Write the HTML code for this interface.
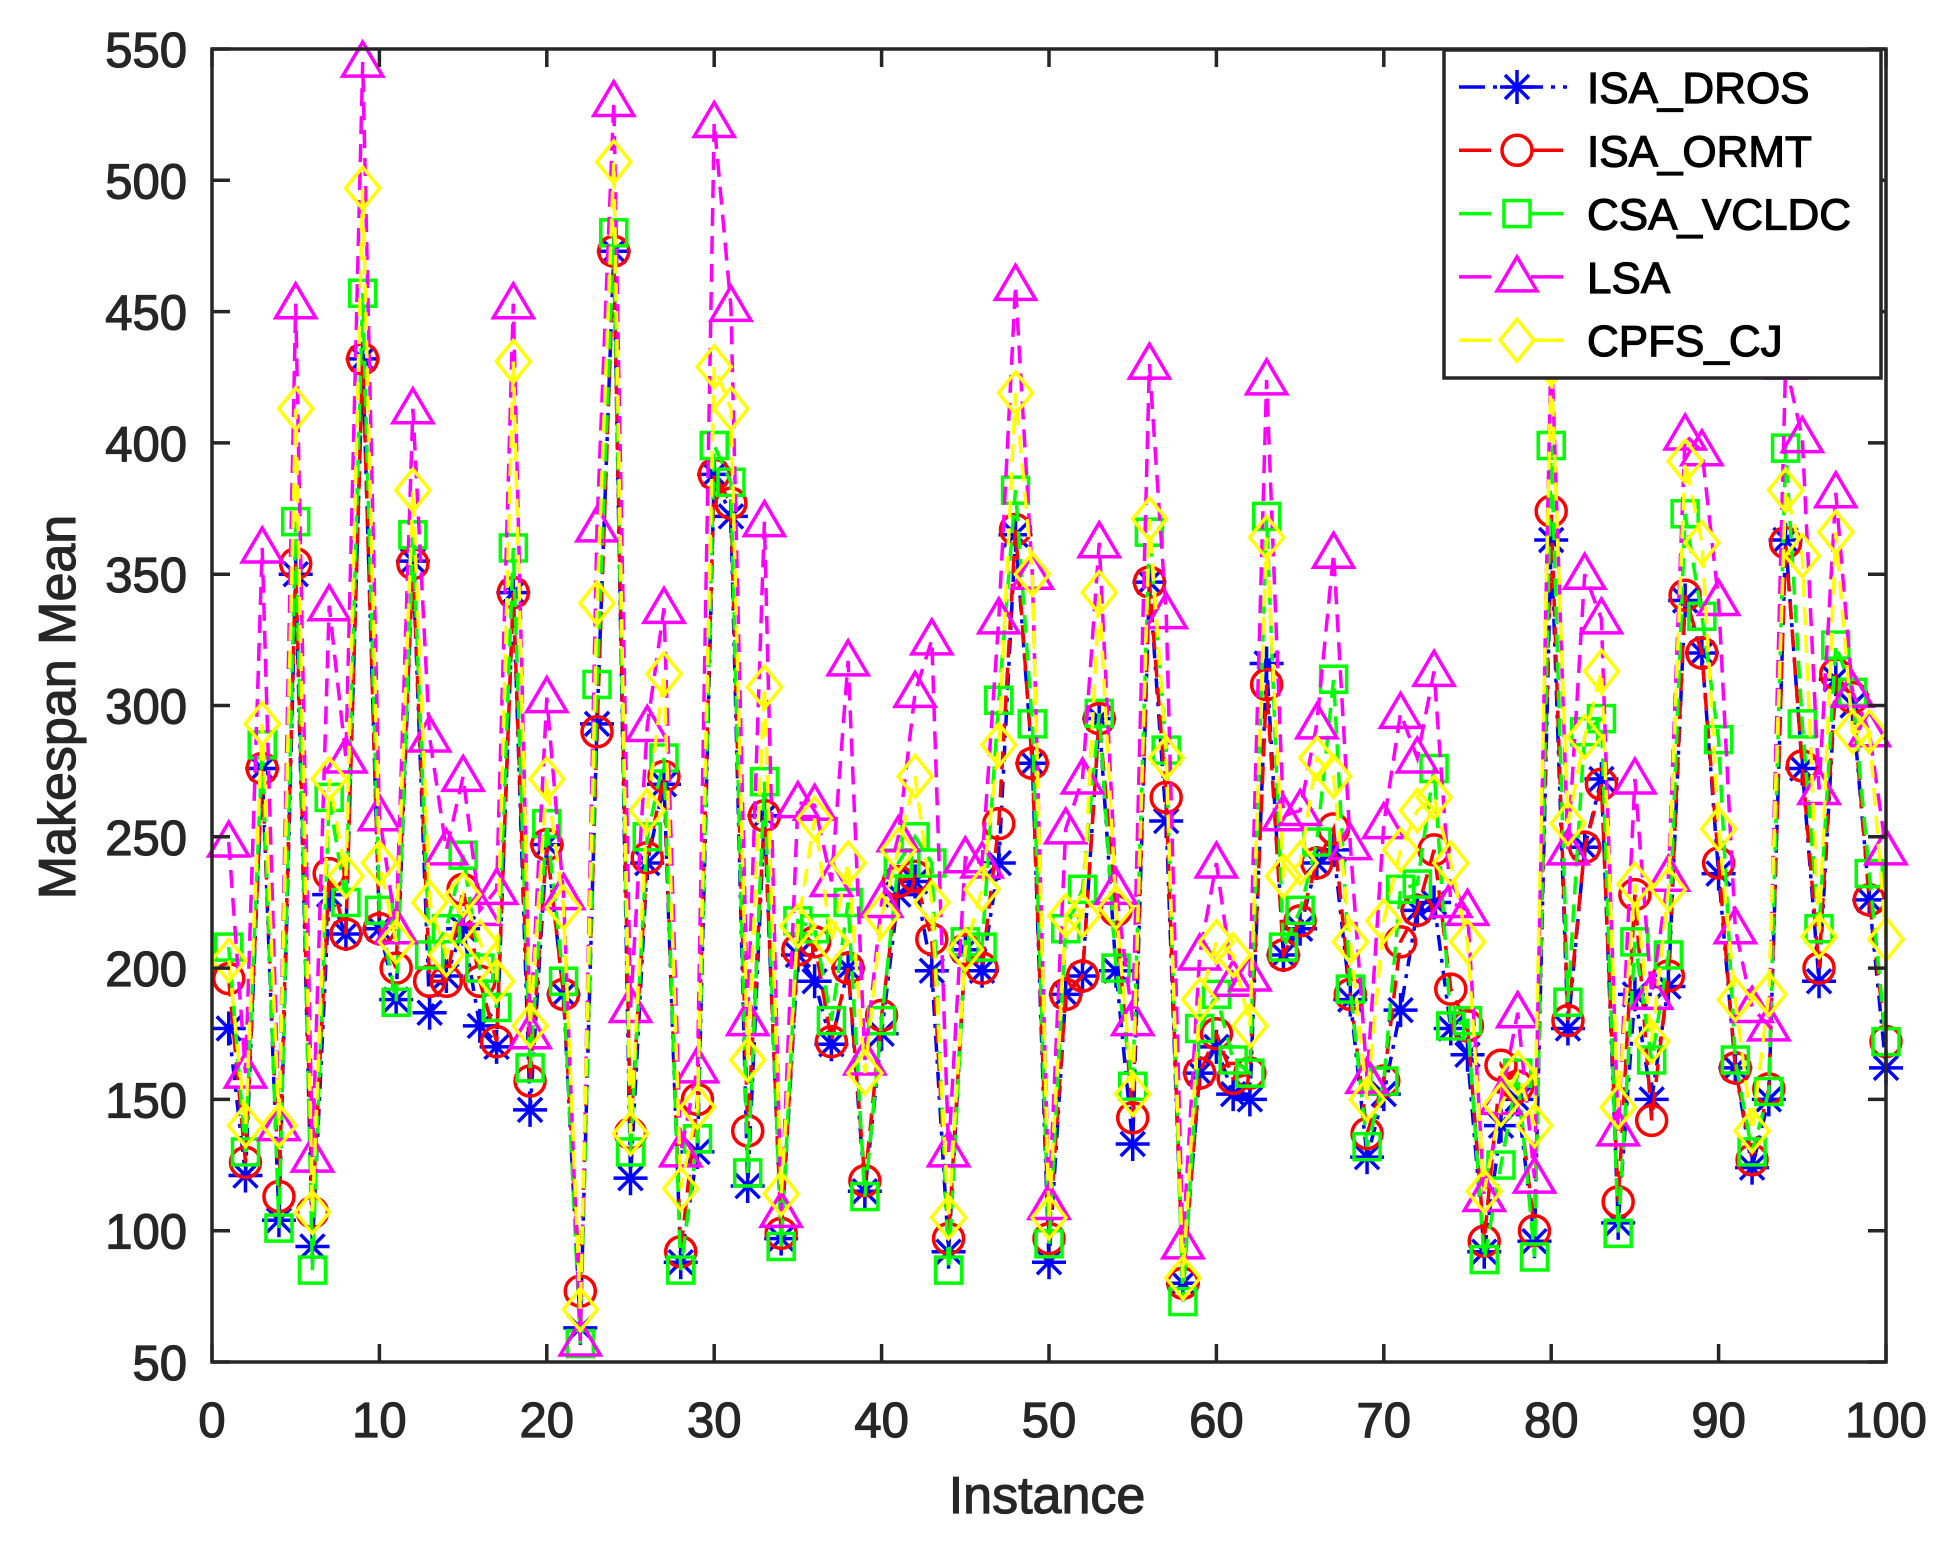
<!DOCTYPE html>
<html><head><meta charset="utf-8"><style>html,body{margin:0;padding:0;background:#fff}svg{display:block}</style></head>
<body>
<svg id="s" xmlns="http://www.w3.org/2000/svg" width="1942" height="1553" viewBox="0 0 1942 1553" font-family="Liberation Sans, Arial, sans-serif"></svg>
<script>
const D=[
[177,196,208,248,203],[121,126,130,160,140],[276,276,285,360,293],[104,113,101,140,140],[350,354,370,453,413],
[94,107,85,128,107],[228,236,265,338,272],[213,213,225,280,235],[432,432,457,545,497],[215,215,222,258,240],
[188,200,187,215,210],[355,354,365,413,382],[183,195,205,288,225],[197,195,215,245,205],[215,230,243,273,228],
[178,195,200,222,210],[170,172,185,230,195],[343,343,360,453,431],[146,157,162,175,178],[247,247,255,303,272],
[190,190,195,228,223],[63,77,57,58,70],[293,290,308,368,339],[473,473,480,530,507],[120,137,130,185,137],
[240,242,250,292,260],[270,273,280,337,312],[88,92,85,130,116],[130,150,135,162,147],[388,388,399,522,429],
[372,377,385,452,413],[117,138,122,180,165],[258,258,271,370,307],[97,99,94,107,114],[205,207,218,263,216],
[195,210,215,262,257],[171,172,180,233,210],[200,200,225,317,240],[115,119,113,165,160],[175,182,180,225,220],
[228,233,240,250,245],[233,235,250,305,273],[199,211,240,325,225],[92,97,85,130,105],[207,207,210,242,207],
[199,200,208,240,230],[240,255,302,333,285],[365,367,382,460,419],[278,278,293,350,350],[88,97,95,110,105],
[190,190,215,253,220],[197,197,230,272,220],[295,295,297,362,343],[199,222,200,230,223],[133,143,155,180,152],
[347,347,366,430,371],[256,265,283,335,280],[80,80,73,95,82],[160,160,177,205,188],[170,175,190,240,210],
[152,158,165,195,205],[150,160,160,197,178],[316,308,372,424,364],[205,205,208,258,235],[215,218,222,260,240],
[240,240,248,293,280],[245,253,310,358,273],[188,190,192,247,210],[128,137,132,158,150],[152,157,157,255,218],
[184,210,230,297,245],[222,222,232,280,260],[225,245,276,313,265],[177,192,178,225,240],[167,178,180,222,210],
[92,96,89,113,115],[140,163,125,150,148],[150,155,160,183,160],[96,100,90,120,140],[363,374,399,440,430],
[177,180,187,245,255],[246,246,290,350,288],[272,270,295,333,313],[103,111,99,138,147],[190,228,210,272,232],
[150,142,165,190,172],[193,197,205,235,230],[340,342,373,403,393],[320,320,334,397,362],[236,240,287,340,253],
[162,162,165,215,188],[124,127,130,185,138],[150,154,153,178,190],[363,362,398,430,382],[276,277,293,402,357],
[195,200,215,268,212],[310,312,323,381,366],[300,303,305,305,290],[226,226,236,290,290],[162,172,172,245,211]];
const X0=212,X1=1886,Y0=1362,Y1=49;
const xp=i=>X0+(X1-X0)*i/100, yp=v=>Y0-(Y0-Y1)*(v-50)/500;
const cols=['#0000ff','#ff0000','#00ff00','#ff00ff','#ffff00'];
const dash=['16,8,4,8','18,10','18,10','18,10','18,10'];
const names=['ISA_DROS','ISA_ORMT','CSA_VCLDC','LSA','CPFS_CJ'];
function marker(k,x,y,c){
 const w='stroke="'+c+'" stroke-width="3.5" fill="none"';
 if(k==0){let s='';for(let a=0;a<4;a++){const t=a*Math.PI/4,dx=17*Math.cos(t),dy=17*Math.sin(t);s+=`<line x1="${x-dx}" y1="${y-dy}" x2="${x+dx}" y2="${y+dy}" ${w}/>`;}return s;}
 if(k==1)return `<circle cx="${x}" cy="${y}" r="15" ${w}/>`;
 if(k==2)return `<rect x="${x-13}" y="${y-13}" width="26" height="26" ${w}/>`;
 if(k==3)return `<polygon points="${x},${y-20} ${x+20},${y+14} ${x-20},${y+14}" ${w}/>`;
 return `<polygon points="${x},${y-21} ${x+17},${y} ${x},${y+21} ${x-17},${y}" ${w}/>`;
}
let s='<rect width="1942" height="1553" fill="#fff"/>';
for(let k=0;k<5;k++){
 let p=D.map((r,i)=>xp(i+1).toFixed(1)+','+yp(r[k]).toFixed(1)).join(' ');
 s+=`<polyline points="${p}" fill="none" stroke="${cols[k]}" stroke-width="3.5" stroke-dasharray="${dash[k]}"/>`;
 D.forEach((r,i)=>{s+=marker(k,xp(i+1),yp(r[k]),cols[k]);});
}
const ax='#262626';
const ts=`fill="${ax}" stroke="${ax}" stroke-width="1.2"`;
s+=`<rect x="${X0}" y="${Y1}" width="${X1-X0}" height="${Y0-Y1}" fill="none" stroke="${ax}" stroke-width="3.5"/>`;
for(let i=0;i<=100;i+=10){const x=xp(i);
 s+=`<line x1="${x}" y1="${Y0}" x2="${x}" y2="${Y0-18}" stroke="${ax}" stroke-width="3.5"/><line x1="${x}" y1="${Y1}" x2="${x}" y2="${Y1+18}" stroke="${ax}" stroke-width="3.5"/>`;
 s+=`<text x="${x}" y="1437" font-size="49" text-anchor="middle" ${ts}>${i}</text>`;}
for(let v=50;v<=550;v+=50){const y=yp(v);
 s+=`<line x1="${X0}" y1="${y}" x2="${X0+18}" y2="${y}" stroke="${ax}" stroke-width="3.5"/><line x1="${X1}" y1="${y}" x2="${X1-18}" y2="${y}" stroke="${ax}" stroke-width="3.5"/>`;
 s+=`<text x="187" y="${y+18}" font-size="49" text-anchor="end" ${ts}>${v}</text>`;}
s+=`<text x="1047" y="1513" font-size="52" text-anchor="middle" ${ts}>Instance</text>`;
s+=`<text transform="translate(75,707) rotate(-90)" font-size="52" text-anchor="middle" ${ts}>Makespan Mean</text>`;
s+=`<rect x="1444" y="50" width="437" height="328" fill="#fff" stroke="${ax}" stroke-width="3.5"/>`;
for(let k=0;k<5;k++){const y=87+k*63.3;
 s+=`<line x1="1459" y1="${y}" x2="1575" y2="${y}" stroke="${cols[k]}" stroke-width="3.5" stroke-dasharray="${k==0?'26,8,4,8,4,8':'32,40'}"/>`;
 s+=marker(k,1517,y,cols[k]);
 s+=`<text x="1587" y="${y+16}" font-size="44" fill="#000" stroke="#000" stroke-width="1.2">${names[k]}</text>`;}
document.getElementById('s').innerHTML=s;
</script>
</body></html>
